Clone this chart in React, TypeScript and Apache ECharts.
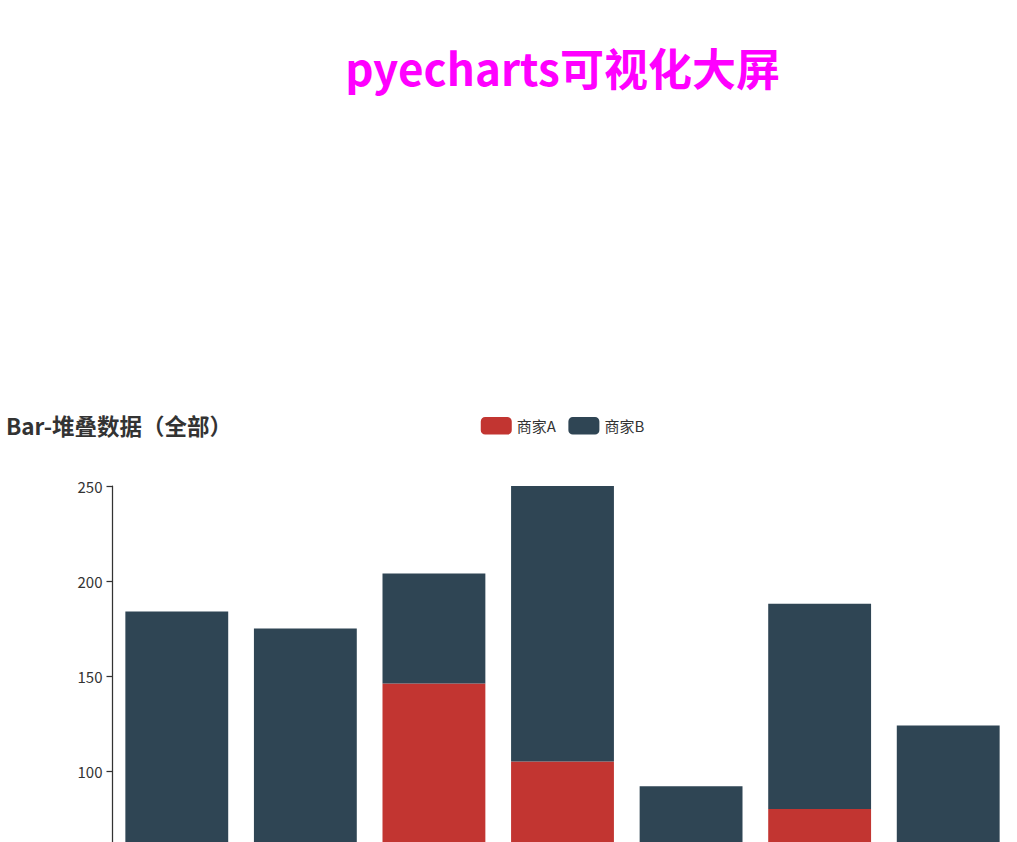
import { useEffect, useRef } from 'react'
import * as echarts from 'echarts'

// 类别与数据
const categories = ['衬衫', '毛衣', '领带', '裤子', '风衣', '高跟鞋', '袜子']
const seriesAName = '商家A'
const seriesBName = '商家B'
const valuesA = [52, 37, 146, 105, 25, 80, 44]
const valuesB = [132, 138, 58, 145, 67, 108, 80]
const yTicks = [0, 50, 100, 150, 200, 250]

const FONT = '"Noto Sans CJK SC", "Noto Sans", sans-serif'

const App: React.FC = () => {
  const chartRef = useRef<HTMLDivElement | null>(null)

  useEffect(() => {
    if (chartRef.current === null) return
    const chart = echarts.init(chartRef.current, undefined, { renderer: 'svg' })
    chart.setOption({
      animation: false,
      color: ['#c23531', '#2f4554'],
      textStyle: { fontFamily: FONT },
      title: [
        {
          text: 'pyecharts可视化大屏',
          left: 'center',
          top: 45,
          padding: 0,
          textStyle: { color: '#ff00ff', fontSize: 44, fontWeight: 'bold', fontFamily: FONT }
        },
        {
          text: 'Bar-堆叠数据（全部）',
          left: 6,
          top: 414,
          padding: 0,
          textStyle: { color: '#333', fontSize: 22.5, fontWeight: 'bold', fontFamily: FONT }
        }
      ],
      legend: {
        data: [seriesAName, seriesBName],
        left: 'center',
        top: 417,
        padding: 0,
        itemWidth: 31,
        itemHeight: 17.5,
        itemGap: 12.5,
        textStyle: { fontSize: 15, color: '#333', fontFamily: FONT }
      },
      grid: { left: 112.5, right: 112.5, top: 486, bottom: 139 },
      xAxis: {
        type: 'category',
        data: categories,
        axisLine: { lineStyle: { color: '#333', width: 1.25 } },
        axisTick: { length: 6 },
        axisLabel: { fontSize: 15, color: '#333', margin: 10 }
      },
      yAxis: {
        type: 'value',
        min: yTicks[0],
        max: yTicks[yTicks.length - 1],
        interval: yTicks[1] - yTicks[0],
        axisLine: { show: true, lineStyle: { color: '#333', width: 1.25 } },
        axisTick: { show: true, length: 6, lineStyle: { width: 1.25 } },
        axisLabel: { fontSize: 15, color: '#333', margin: 10 },
        splitLine: { show: false }
      },
      series: [
        { name: seriesAName, type: 'bar', stack: 'stack1', data: valuesA, barCategoryGap: '20%' },
        { name: seriesBName, type: 'bar', stack: 'stack1', data: valuesB, barCategoryGap: '20%' }
      ]
    })
    return () => {
      chart.dispose()
    }
  }, [])

  return (
    <div style={{ position: 'fixed', top: 0, left: 0, width: '100vw', height: '100vh', overflow: 'hidden', background: '#fff' }}>
      <div ref={chartRef} style={{ width: 1125, height: 1100 }}></div>
    </div>
  )
}

export default App
